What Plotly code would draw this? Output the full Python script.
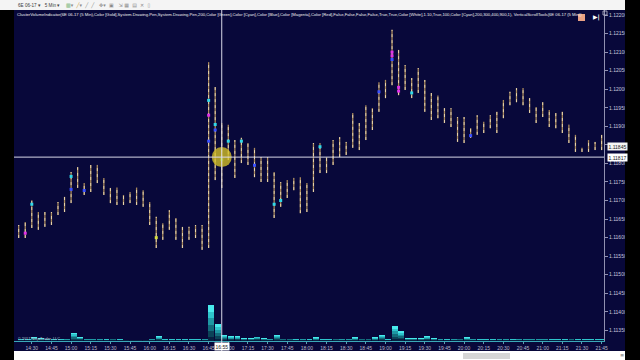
import plotly.graph_objects as go
import pandas as pd

# ---------------- data ----------------
bar_times = pd.date_range("2017-04-20 14:20", periods=90, freq="5min")

highs = [1.11634, 1.11642, 1.11701, 1.11669, 1.11669, 1.11669, 1.11696, 1.11710, 1.11777, 1.11790,
         1.11747, 1.11796, 1.11796, 1.11761, 1.11734, 1.11735, 1.11715, 1.11723, 1.11735, 1.11728,
         1.11696, 1.11656, 1.11639, 1.11674, 1.11653, 1.11629, 1.11629, 1.11634, 1.11634, 1.12073,
         1.12006, 1.11909, 1.11904, 1.11863, 1.11869, 1.11855, 1.11842, 1.11817, 1.11817, 1.11777,
         1.11750, 1.11755, 1.11761, 1.11763, 1.11747, 1.11855, 1.11855, 1.11817, 1.11863, 1.11871,
         1.11858, 1.11936, 1.11909, 1.11957, 1.11949, 1.12019, 1.12025, 1.12160, 1.12106, 1.12065,
         1.12030, 1.12057, 1.12025, 1.11990, 1.11983, 1.11949, 1.11949, 1.11925, 1.11925, 1.11895,
         1.11930, 1.11912, 1.11930, 1.11939, 1.11971, 1.11993, 1.12003, 1.12003, 1.11976, 1.11952,
         1.11965, 1.11944, 1.11936, 1.11939, 1.11904, 1.11877, 1.11842, 1.11863, 1.11858, 1.11877]

lows = [1.11599, 1.11599, 1.11626, 1.11621, 1.11629, 1.11634, 1.11661, 1.11669, 1.11693, 1.11734,
        1.11715, 1.11723, 1.11747, 1.11715, 1.11693, 1.11688, 1.11688, 1.11693, 1.11688, 1.11683,
        1.11634, 1.11572, 1.11594, 1.11621, 1.11594, 1.11572, 1.11594, 1.11599, 1.11567, 1.11572,
        1.11755, 1.11734, 1.11809, 1.11761, 1.11801, 1.11796, 1.11763, 1.11750, 1.11750, 1.11653,
        1.11683, 1.11707, 1.11728, 1.11666, 1.11669, 1.11723, 1.11774, 1.11774, 1.11796, 1.11817,
        1.11823, 1.11842, 1.11836, 1.11863, 1.11890, 1.11939, 1.11976, 1.12011, 1.11984, 1.11998,
        1.11976, 1.11990, 1.11939, 1.11917, 1.11922, 1.11909, 1.11898, 1.11858, 1.11855, 1.11869,
        1.11877, 1.11882, 1.11895, 1.11882, 1.11922, 1.11957, 1.11965, 1.11957, 1.11936, 1.11909,
        1.11925, 1.11898, 1.11895, 1.11882, 1.11855, 1.11831, 1.11831, 1.11831, 1.11836, 1.11836]

volumes = [70, 70, 180, 135, 90, 70, 70, 90, 360, 180,
           90, 90, 90, 70, 110, 70, 45, 45, 45, 45,
           90, 225, 70, 70, 70, 70, 70, 70, 90, 1620,
           765, 270, 225, 225, 135, 135, 200, 135, 90, 290,
           110, 110, 70, 90, 70, 160, 70, 70, 110, 90,
           90, 160, 110, 110, 160, 280, 70, 675, 450, 135,
           135, 135, 225, 135, 90, 70, 90, 110, 160, 90,
           70, 70, 70, 90, 90, 70, 90, 90, 90, 90,
           90, 70, 70, 70, 110, 70, 70, 70, 70, 70]

# high-volume cluster levels: (bar index, price, level colour)
hot_idx = [1, 2, 8, 8, 10, 21, 29, 29, 29, 30, 30, 31, 32, 34, 36, 39, 40, 46, 55, 57, 57, 57, 58, 58, 60, 69]
hot_price = [1.11612, 1.11690, 1.11765, 1.11730, 1.11727, 1.11600, 1.11930, 1.11970, 1.11860, 1.11890,
             1.11905, 1.11810, 1.11860, 1.11860, 1.11795, 1.11690, 1.11700, 1.11845, 1.11993, 1.12100,
             1.12090, 1.12080, 1.12005, 1.11995, 1.11990, 1.11875]
hot_color = ["magenta", "cyan", "cyan", "blue", "blue", "yellow", "magenta", "cyan", "blue", "blue",
             "cyan", "green", "cyan", "cyan", "blue", "cyan", "cyan", "cyan", "blue", "magenta",
             "magenta", "blue", "magenta", "magenta", "cyan", "blue"]

crosshair_time = "2017-04-20 16:55"
crosshair_price = 1.11817
last_price = 1.11845
y_ticks_range = (1.113214, 1.122135)
x_range = ("2017-04-20 14:16:25", "2017-04-20 21:46:48")

# ---------------- styling helpers ----------------
NAVY = "#08083a"
PAL = {"magenta": "#e030e8", "cyan": "#30d8e8", "blue": "#3a50ff",
       "green": "#30e040", "yellow": "#d8e040", "white": "#ffffff"}

L, T, W, H = 14, 10, 590, 331


def px(x):
    return (x - L) / W


def py(y):
    return (T + H - y) / H


fig = go.Figure()

# volume bars with a cyan-to-dark gradient (overlaid layers)
layers = [(1.0, "#49eaec"), (0.82, "#2ec4cc"), (0.64, "#1e98a4"), (0.46, "#136c7c"),
          (0.28, "#0b4358"), (0.12, "#071f40")]
for frac, col in layers:
    fig.add_trace(go.Bar(x=bar_times, y=[v * frac for v in volumes], yaxis="y2",
                         marker=dict(color=col, line=dict(width=0)),
                         width=270000, offset=-15000, hoverinfo="skip", showlegend=False))

# price cluster bars (high-low columns)
xs, ys = [], []
for t, hi, lo in zip(bar_times, highs, lows):
    xs += [t, t, None]
    ys += [lo, hi, None]
fig.add_trace(go.Scatter(x=xs, y=ys, mode="lines", line=dict(color="#a8885c", width=1.3),
                         hoverinfo="skip", showlegend=False))
# lighter inner dots to mimic the cluster prints
fig.add_trace(go.Scatter(x=xs, y=ys, mode="lines",
                         line=dict(color="rgba(255,240,200,0.75)", width=1.0, dash="dot"),
                         hoverinfo="skip", showlegend=False))

# high-volume level highlights
fig.add_trace(go.Scatter(x=[bar_times[i] for i in hot_idx], y=hot_price, mode="markers",
                         marker=dict(symbol="square", size=3, color=[PAL[c] for c in hot_color],
                                     line=dict(width=0)),
                         hoverinfo="skip", showlegend=False))

# cursor highlight
fig.add_trace(go.Scatter(x=[crosshair_time], y=[crosshair_price], mode="markers",
                         marker=dict(size=20, color="rgba(215,195,40,0.78)", line=dict(width=0)),
                         hoverinfo="skip", showlegend=False))

shapes = []
# crosshair lines
shapes.append(dict(type="line", xref="paper", yref="y", x0=0, x1=1,
                   y0=crosshair_price, y1=crosshair_price, line=dict(color="#d8d8e8", width=1)))
shapes.append(dict(type="line", xref="x", yref="paper", x0=crosshair_time, x1=crosshair_time,
                   y0=py(351), y1=1, line=dict(color="#d8d8e8", width=1)))
# frame: black side strips, white toolbar and bottom bar
shapes.append(dict(type="rect", xref="paper", yref="paper", x0=px(0), x1=px(L), y0=py(360), y1=py(10),
                   fillcolor="black", line=dict(width=0), layer="above"))
shapes.append(dict(type="rect", xref="paper", yref="paper", x0=px(625), x1=px(640), y0=py(360), y1=py(0),
                   fillcolor="black", line=dict(width=0), layer="above"))
shapes.append(dict(type="rect", xref="paper", yref="paper", x0=px(0), x1=px(625), y0=py(10), y1=py(0),
                   fillcolor="#f4f4f4", line=dict(width=0), layer="above"))
shapes.append(dict(type="rect", xref="paper", yref="paper", x0=px(L), x1=px(625), y0=py(360), y1=py(351),
                   fillcolor="white", line=dict(width=0), layer="above"))
shapes.append(dict(type="rect", xref="paper", yref="paper", x0=px(463), x1=px(510), y0=py(359), y1=py(353),
                   fillcolor="#d6d6d6", line=dict(width=0), layer="above"))
# top-right chart icons
shapes.append(dict(type="rect", xref="paper", yref="paper", x0=px(578), x1=px(585), y0=py(21), y1=py(14),
                   fillcolor="#e9a184", line=dict(width=0), layer="above"))
shapes.append(dict(type="rect", xref="paper", yref="paper", x0=px(603), x1=px(607), y0=py(15), y1=py(11),
                   fillcolor="rgba(0,0,0,0)", line=dict(color="#c0c0d0", width=0.8), layer="above"))

FONT = "Liberation Sans, Arial, sans-serif"
ann = []
ann.append(dict(xref="paper", yref="paper", x=px(16), y=py(5), xanchor="left", yanchor="middle",
                text="6E 06-17 ▾   5 Min ▾", showarrow=False, font=dict(size=4.6, color="#404040", family=FONT)))
ann.append(dict(xref="paper", yref="paper", x=px(64), y=py(5), xanchor="left", yanchor="middle",
                text="<span style='color:#3a9a3a'>▥</span>▾  <span style='color:#c8a030'>╱</span>▾  ╱  ╱   ✥▾  ▣   ⇲ ▦  ▤  ✕  ▯",
                showarrow=False, font=dict(size=5, color="#8a8a8a", family="DejaVu Sans")))
ann.append(dict(xref="paper", yref="paper", x=px(15), y=py(14.5), xanchor="left", yanchor="middle",
                text="ClusterVolumeIndicator(6E 06-17 (5 Min),Color [Gold],System.Drawing.Pen,System.Drawing.Pen,200,"
                     "Color [Green],Color [Cyan],Color [Blue],Color [Magenta],Color [Red],False,False,False,False,True,True,"
                     "Color [White],1.10,True,100,Color [Cyan],200,300,400,900,1), VerticalScrollTools(6E 06-17 (5 Min))",
                showarrow=False, font=dict(size=4.2, color="#f0f0f0", family=FONT)))
ann.append(dict(xref="paper", yref="paper", x=px(596), y=py(17.5), xanchor="center", yanchor="middle",
                text="<b>▶|</b>", showarrow=False, font=dict(size=6, color="white", family="DejaVu Sans")))
ann.append(dict(xref="paper", yref="paper", x=px(16), y=py(339), xanchor="left", yanchor="middle",
                text="© 2017 NinjaTrader, LLC", showarrow=False, font=dict(size=3.8, color="#b8c8d8", family=FONT)))
# price / time labels of the crosshair and last price
for val, bg in [(last_price, "#f4f4f4"), (crosshair_price, "#ffffff")]:
    ann.append(dict(xref="paper", yref="y", x=1, y=val, xanchor="left", yanchor="middle", xshift=3,
                    text=f"{val:.5f}", showarrow=False, bgcolor=bg, borderpad=0.5,
                    font=dict(size=5, color="#202020", family=FONT)))
ann.append(dict(xref="x", yref="paper", x=crosshair_time, y=py(346.5), xanchor="center", yanchor="middle",
                text=pd.Timestamp(crosshair_time).strftime("%H:%M"), showarrow=False, bgcolor="#ffffff",
                borderpad=0.5, font=dict(size=5, color="#202020", family=FONT)))
ann.append(dict(xref="paper", yref="paper", x=px(622), y=py(355.5), xanchor="center", yanchor="middle",
                text="≡", showarrow=False, font=dict(size=5, color="#606060", family="DejaVu Sans")))

fig.update_layout(
    width=640, height=360,
    margin=dict(l=L, r=640 - L - W, t=T, b=360 - T - H, pad=0),
    paper_bgcolor=NAVY, plot_bgcolor=NAVY,
    barmode="overlay", bargap=0,
    showlegend=False,
    font=dict(family=FONT),
    xaxis=dict(type="date", range=list(x_range), tick0="2017-04-20 14:30", dtick=15 * 60 * 1000,
               tickformat="%H:%M", ticks="outside", ticklen=2, tickcolor="#5aa0b0",
               tickfont=dict(size=5, color="#b8b8cc"), showgrid=False, zeroline=False,
               showline=True, linecolor="#3aa8b8", linewidth=1, fixedrange=True),
    yaxis=dict(side="right", range=list(y_ticks_range), tick0=1.1135, dtick=0.0005, tickformat=".5f",
               ticks="outside", ticklen=3, tickcolor="#9090b0", showline=True, linecolor="#9090b0",
               linewidth=1, tickfont=dict(size=5, color="#c8c8dc"), showgrid=False, zeroline=False),
    yaxis2=dict(overlaying="y", range=[0, 15000], visible=False),
    shapes=shapes, annotations=ann,
)

fig.write_html("out.html")
